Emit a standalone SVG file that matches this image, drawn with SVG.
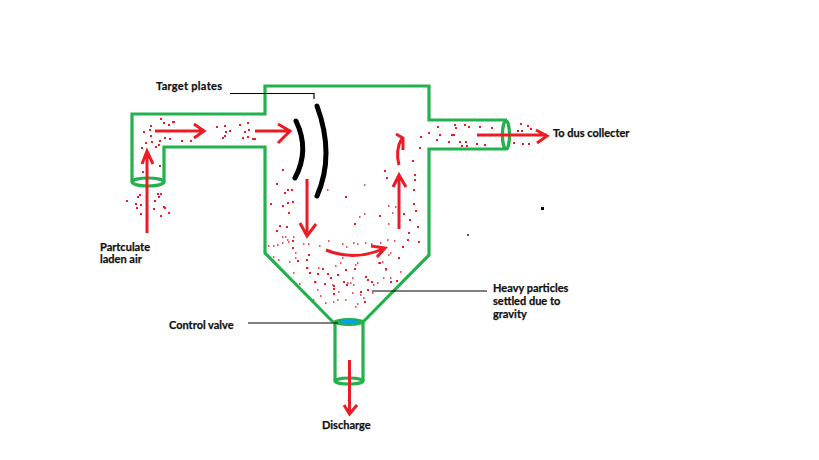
<svg xmlns="http://www.w3.org/2000/svg" width="819" height="460" viewBox="0 0 819 460">
<style>
text{font-family:"Lato","Liberation Sans",sans-serif;font-weight:700;font-size:11px;fill:#111;stroke:#111;stroke-width:.25}
.g{fill:none;stroke:#22b14c;stroke-width:3.200}
.r{fill:none;stroke:#ed1c24;stroke-width:3}
.k{fill:none;stroke:#000;stroke-width:1.200}
.p{fill:none;stroke:#000;stroke-width:5;stroke-linecap:round}
.d{fill:none;stroke:#ed1c24;stroke-width:2;shape-rendering:crispEdges}
.s{fill:none;stroke:#ed1c24;stroke-width:1.500}
</style>
<rect width="819" height="460" fill="#fff"/>
<g id="particles">
<path class="d" d="M160 119h2M150 126h2M163 123h2M168 125h2M172 122h3M143 132h2M149 130h2M150 136h2M145 143h2M151 142h2M159 141h2M164 138h2M169 139h2M158 145h2M155 147h2M141 148h2M159 166h2M142 172h2M181 141h2M190 141h2M216 127h2M224 126h2M239 125h2M247 123h2M225 132h2M229 131h2M224 136h2M222 138h2M244 132h2M248 130h2M242 138h2M247 137h2M252 139h4M139 195h2M137 197h2M126 201h2M135 204h2M140 205h2M136 208h2M140 214h2M157 194h2M160 194h2M158 197h2M154 201h2M163 207h2M164 208h2M153 209h2M168 213h2M160 216h2M282 170h2M276 184h2M287 190h2M291 190h2M284 193h2M292 202h2M287 203h2M282 206h2M270 204h2M288 213h2M279 226h2M286 227h2M276 231h2"/>
<path class="d" d="M292 241h2M292 248h2M297 261h2M306 260h2M308 255h2M306 268h2M309 273h2M317 274h2M322 269h2M327 274h2M330 278h2M337 275h2M345 270h2M354 269h2M314 282h2M324 284h2M333 286h2M333 289h2M346 285h2M343 282h2M365 277h2M367 280h2M371 282h2M360 292h2M367 290h2M333 294h2M364 302h2M402 247h2M398 258h2M379 263h2M390 282h2M396 281h2M385 269h2"/>
<path class="d" d="M437 127h2M428 133h2M420 137h2M439 135h2M436 140h2M419 148h2M454 125h2M455 128h2M464 125h2M468 127h2M479 127h2M491 128h2M451 135h4M448 142h2M459 142h2M465 142h2M461 146h2M466 146h2M476 144h2M484 145h2M520 124h2M527 126h2M530 129h2M517 131h2M521 131h2M513 143h2M522 144h2M528 144h2M412 161h2M384 171h2M386 178h2M414 175h2M414 180h2M413 190h2M413 204h2M415 211h2M403 214h2M409 220h2M417 227h2M408 233h2M407 240h2M402 247h2M379 216h2M354 224h2M345 197h2M418 242h2"/>
<path class="s" d="M327 190h1.500M364 185h1.500M388 206h1.500M395 207h1.500M392 213h1.500M364 214h1.500M359 217h1.500M388 224h1.500M398 227h1.500M282 237h1.500M285 237h1.500M287 240h1.500M288 242h1.500M293 237h1.500M282 243h1.500M277 245h1.500M273 246h1.500M268 246h1.500M303 244h1.500M308 244h1.500M319 246h1.500M328 241h1.500M342 244h1.500M346 247h1.500M353 243h1.500M357 244h1.500M365 243h1.500M371 244h1.500M380 243h1.500M387 240h1.500M394 241h1.500M390 253h1.500M388 255h1.500M378 263h1.500M382 262h1.500M357 263h1.500M355 265h1.500M340 263h1.500M318 268h1.500M307 268h1.500M295 253h1.500M295 258h1.500M289 262h1.500M293 273h1.500M315 282h1.500M317 290h1.500M332 285h1.500M333 302h1.500M337 300h1.500M325 303h1.500M355 307h1.500M357 304h1.500M363 298h1.500M352 293h1.500M347 283h1.500M350 283h1.500M353 285h1.500M373 285h1.500M377 283h1.500M360 295h1.500M372 293h1.500M385 270h1.500M383 278h1.500M390 278h1.500M400 272h1.500M278 260h1.500M273 257h1.500M299 284h1.500M313 300h1.500M345 300h1.500M320 296h1.500M338 292h1.500M352 278h1.500M342 258h1.500M335 266h1.500"/>
<path d="M541 207h3v3h-3z" fill="#000"/>
<path d="M467 234h2v2h-2z" fill="#555"/>
</g>
<g id="vessel">
<path class="g" d="M132 182V114H265V86H429V120H507M505 149H429V255L363 322M333 322L265 253V147H164V182"/>
</g>
<g id="inlet-ring"><ellipse class="g" cx="148" cy="182" rx="16" ry="4"/></g>
<g id="outlet-ring"><ellipse class="g" cx="506" cy="135" rx="3.500" ry="14"/></g>
<g id="control-valve">
<ellipse cx="349" cy="322" rx="16" ry="4" fill="#22b14c"/>
<ellipse cx="349" cy="321.500" rx="9" ry="2" fill="#00a2e8"/>
</g>
<g id="discharge-pipe">
<path class="g" d="M335 323V381M363 323V381"/>
<ellipse class="g" cx="349" cy="381" rx="14" ry="3"/>
</g>
<g id="target-plates">
<path class="p" d="M296 121Q310 150 295 178"/>
<path class="p" d="M317 106Q335 155 317 196"/>
</g>
<g id="connectors">
<path class="r" d="M147 233V152M142 164L147 151L153 164"/>
<path class="r" d="M155 131H204M194 124L204 131L194 138"/>
<path class="r" d="M255 131H290M278 124L290 131L278 143"/>
<path class="r" d="M307 179V235M300 223L307 236L316 224"/>
<path class="r" d="M326 250Q355 262 385 248M371 246L385 248L377 257"/>
<path class="r" d="M399 229V175M393 187L399 175L406 187"/>
<path class="r" d="M399 165Q395 150 402 138M396 134L403 138V150"/>
<path class="r" d="M477 135H547M536 130L547 136L537 143"/>
<path class="r" d="M349.500 360V414M344 405L349.500 414L357 405"/>
<path class="k" d="M230 93.500H314V99"/>
<path class="k" d="M248 323H338"/>
<path class="k" d="M372 291H487"/>
</g>
<g id="labels">
<text x="156" y="90" textLength="66">Target plates</text>
<text x="100" y="251">Partculate</text>
<text x="100" y="263">laden air</text>
<text x="553" y="137">To dus collecter</text>
<text x="493" y="292">Heavy particles</text>
<text x="493" y="305">settled due to</text>
<text x="493" y="318">gravity</text>
<text x="169" y="329">Control valve</text>
<text x="322" y="429">Discharge</text>
</g>
</svg>
